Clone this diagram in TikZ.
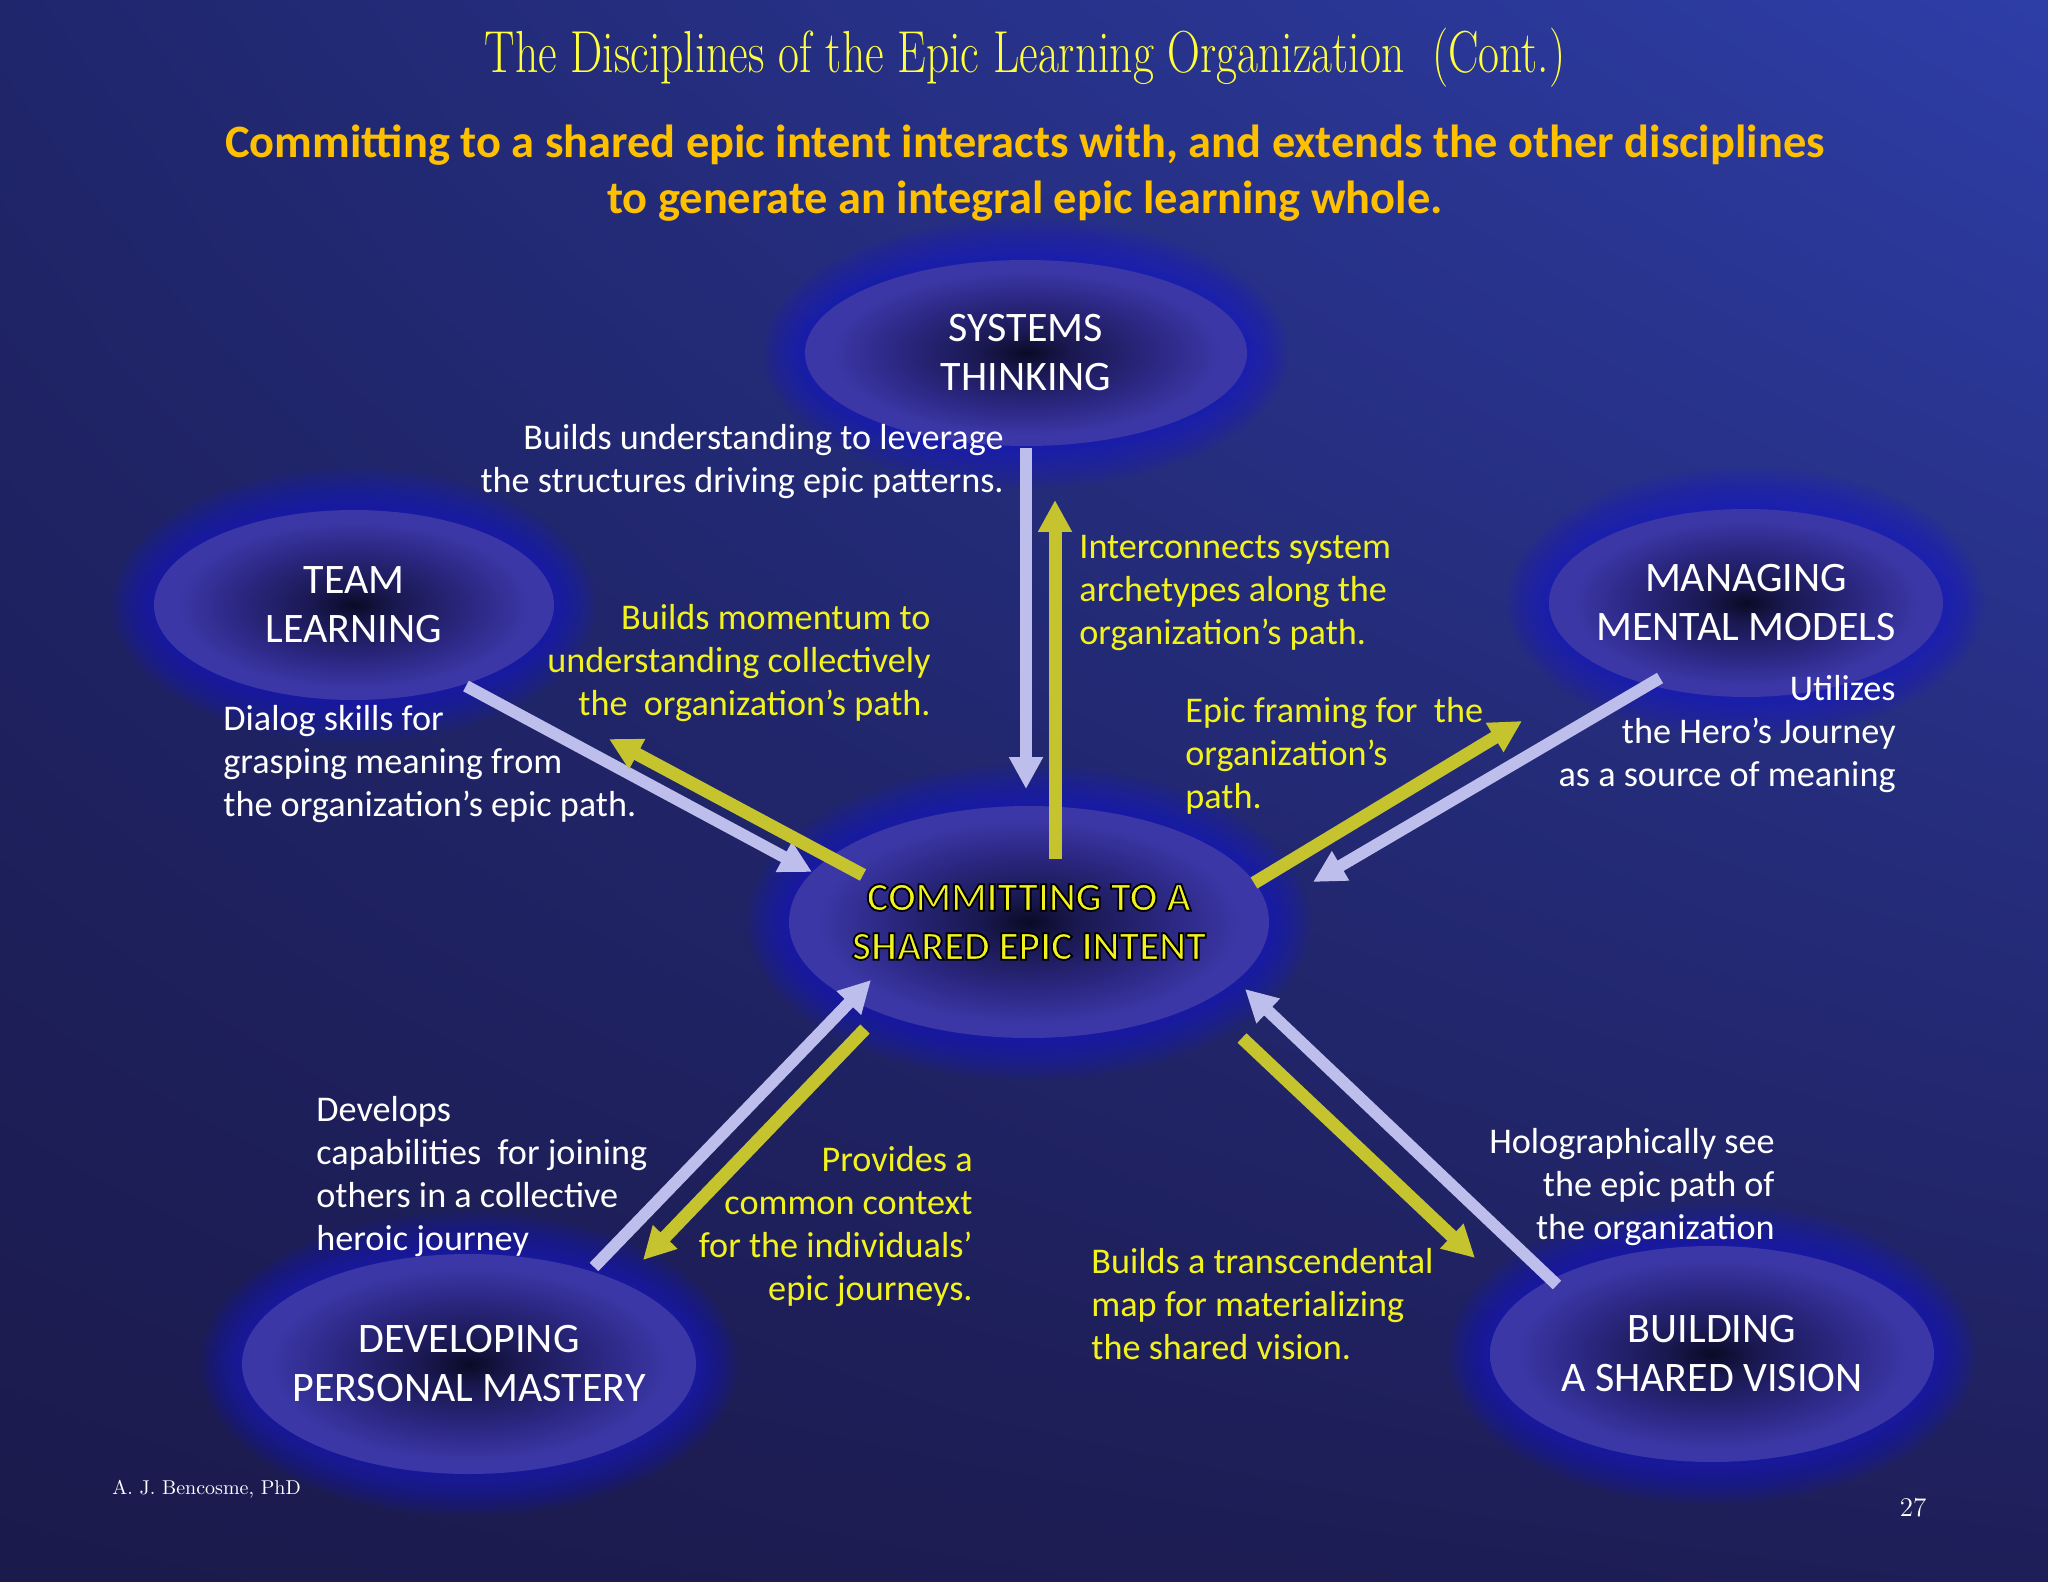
\documentclass[tikz,border=0pt]{standalone}
\usepackage{fontspec}
\usetikzlibrary{shapes.geometric,arrows.meta,shadings}
\newfontfamily\calfont{Carlito}
\definecolor{bgtl}{HTML}{20266C}
\definecolor{bgtr}{HTML}{2E3EA8}
\definecolor{bgbl}{HTML}{1B1A4C}
\definecolor{bgbr}{HTML}{1E1E58}
\definecolor{glowc}{HTML}{1818D0}
\definecolor{ellout}{HTML}{3B37A6}
\definecolor{ec0}{HTML}{0A0A26}
\definecolor{ec1}{HTML}{19184F}
\definecolor{ec2}{HTML}{2C2884}
\definecolor{lav}{HTML}{BEBEEC}
\definecolor{olive}{HTML}{C6C42E}
\definecolor{anny}{HTML}{F2F21E}
\definecolor{subor}{HTML}{FFC000}
\definecolor{titley}{HTML}{FFFF3C}
\pgfdeclareradialshading{discshade}{\pgfpoint{0bp}{0bp}}{color(0bp)=(ec0); color(5bp)=(ec1); color(15bp)=(ec2); color(22bp)=(ellout); color(50bp)=(ellout)}
\newcommand\glow[4]{\foreach \k in {1,...,12}{\fill[glowc, opacity=0.07] (#1,#2) ellipse [x radius={#3+\k*3.5}, y radius={#4+\k*3.5}];}}
\newcommand\outl[1]{\special{pdf:literal direct 0 0 0 RG 0.9 w 2 Tr}#1\special{pdf:literal direct 0 Tr}}
\tikzset{
  disc/.style={ellipse, inner sep=0pt, shade, shading=discshade},
  disctext/.style={text=white, font=\calfont\fontsize{21}{24.5}\selectfont, align=center, inner sep=0pt},
  lavarrow/.style={draw=lav, line width=6pt, -{Triangle[length=16pt,width=16pt]}},
  olvarrow/.style={draw=olive, line width=6.5pt, -{Triangle[length=16pt,width=16pt]}},
  whitenote/.style={text=white, font=\calfont\fontsize{18.1}{21.5}\selectfont, inner sep=0pt},
  yellownote/.style={text=anny, font=\calfont\fontsize{18.1}{21.5}\selectfont, inner sep=0pt},
}
\begin{document}
\begin{tikzpicture}[x=0.5pt, y=-0.5pt]
\shade[upper left=bgtl, upper right=bgtr, lower left=bgbl, lower right=bgbr] (0,0) rectangle (2048,1582);
\useasboundingbox (0,0) rectangle (2048,1582);

% title
\node[text=titley] (title) at (1025,58) {\scalebox{1}[1.3]{\fontsize{22.8}{26}\selectfont The Disciplines of the Epic Learning Organization\ \ (Cont.)}};
\node[text=subor, align=center, font=\calfont\bfseries\fontsize{23.2}{28}\selectfont] (subtitle) at (1025,173) {Committing to a shared epic intent interacts with, and extends the other disciplines\\to generate an integral epic learning whole.};

% glows
\glow{1026}{353}{221}{93}
\glow{354}{605}{200}{95}
\glow{1746}{603}{197}{94}
\glow{1029}{922}{240}{116}
\glow{469}{1364}{227}{110}
\glow{1712}{1354}{222}{108}

% disciplines
\node[disc, minimum width=221pt, minimum height=93pt] (st) at (1026,353) {};
\node[disc, minimum width=200pt, minimum height=95pt] (tl) at (354,605) {};
\node[disc, minimum width=197pt, minimum height=94pt] (mm) at (1746,603) {};
\node[disc, minimum width=240pt, minimum height=116pt] (cs) at (1029,922) {};
\node[disc, minimum width=227pt, minimum height=110pt] (pm) at (469,1364) {};
\node[disc, minimum width=222pt, minimum height=108pt] (sv) at (1712,1354) {};
\node[disctext] (stt) at (st.center) {SYSTEMS\\THINKING};
\node[disctext] (tlt) at (tl.center) {TEAM\\LEARNING};
\node[disctext] (mmt) at (mm.center) {MANAGING\\MENTAL MODELS};
\node[disctext, text=anny, font=\calfont\bfseries\fontsize{20.3}{24.5}\selectfont] (cst) at (cs.center) {\outl{COMMITTING TO A}\\\outl{SHARED EPIC INTENT}};
\node[disctext] (pmt) at (pm.center) {DEVELOPING\\PERSONAL MASTERY};
\node[disctext] (svt) at (sv.center) {BUILDING\\A SHARED VISION};

% arrow end points
\coordinate (stA) at (1026,448); \coordinate (stB) at (1026,789);
\coordinate (stC) at (1055,859); \coordinate (stD) at (1055,500);
\coordinate (tlA) at (466,686);  \coordinate (tlB) at (812,872);
\coordinate (tlC) at (863,875);  \coordinate (tlD) at (609,739);
\coordinate (mmA) at (1254,883); \coordinate (mmB) at (1522,721);
\coordinate (mmC) at (1660,678); \coordinate (mmD) at (1313,882);
\coordinate (pmA) at (594,1267); \coordinate (pmB) at (871,980);
\coordinate (pmC) at (865,1029); \coordinate (pmD) at (643,1260);
\coordinate (svA) at (1242,1038); \coordinate (svB) at (1475,1258);
\coordinate (svC) at (1557,1285); \coordinate (svD) at (1245,989);

\draw[lavarrow] (stA) -- (stB);
\draw[olvarrow] (stC) -- (stD);
\draw[lavarrow] (tlA) -- (tlB);
\draw[olvarrow] (tlC) -- (tlD);
\draw[olvarrow] (mmA) -- (mmB);
\draw[lavarrow] (mmC) -- (mmD);
\draw[lavarrow] (pmA) -- (pmB);
\draw[olvarrow] (pmC) -- (pmD);
\draw[olvarrow] (svA) -- (svB);
\draw[lavarrow] (svC) -- (svD);

% notes
\node[whitenote, anchor=east, align=right] (n1) at (1004,462) {Builds understanding to leverage\\the structures driving epic patterns.};
\node[yellownote, anchor=west, align=left] (n2) at (1079,593) {Interconnects system\\archetypes along the\\organization’s path.};
\node[yellownote, anchor=east, align=right] (n3) at (931,663) {Builds momentum to\\understanding collectively\\the\ \ organization’s path.};
\node[whitenote, anchor=west, align=left] (n4) at (223,764) {Dialog skills for\\grasping meaning from\\the organization’s epic path.};
\node[yellownote, anchor=west, align=left] (n5) at (1185,756) {Epic framing for\ \ the\\organization’s\\path.};
\node[whitenote, anchor=east, align=right] (n6) at (1896,734) {Utilizes\\the Hero’s Journey\\as a source of meaning};
\node[whitenote, anchor=west, align=left] (n7) at (316,1177) {Develops\\capabilities\ \ for joining\\others in a collective\\heroic journey};
\node[yellownote, anchor=east, align=right] (n8) at (973,1227) {Provides a\\common context\\for the individuals’\\epic journeys.};
\node[yellownote, anchor=west, align=left] (n9) at (1091,1304) {Builds a transcendental\\map for materializing\\the shared vision.};
\node[whitenote, anchor=east, align=right] (n10) at (1775,1187) {Holographically see\\the epic path of\\the organization};

\node[text=white, anchor=west, inner sep=0pt, font=\fontsize{10}{12}\selectfont] (author) at (112,1489) {A. J. Bencosme, PhD};
\node[text=white, inner sep=0pt, font=\fontsize{13.5}{15}\selectfont] (page) at (1913,1508) {27};
\end{tikzpicture}
\end{document}
